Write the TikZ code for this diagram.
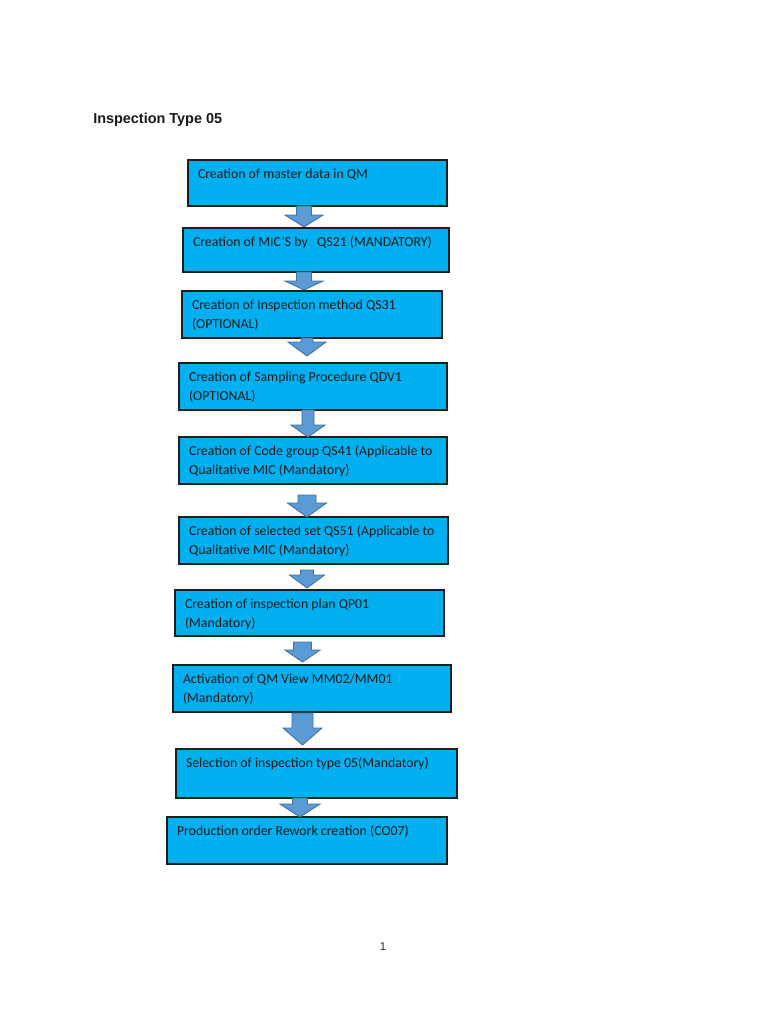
\documentclass[tikz,border=0pt]{standalone}
\usepackage{fontspec}
\setmainfont{Carlito}
\newfontfamily\titlefont{Liberation Sans}
\usetikzlibrary{calc}
\def\pxl{0.796875pt}
\definecolor{boxfill}{HTML}{00B0F0}
\definecolor{boxline}{HTML}{1E1E1E}
\definecolor{arrowfill}{HTML}{5B9BD5}
\definecolor{arrowline}{HTML}{41719C}
\tikzset{
 stepbox/.style={draw=boxline, fill=boxfill, line width=0.9pt, inner sep=0pt, outer sep=0pt},
 steptext/.style={anchor=north west, inner sep=0pt, outer sep=0pt, align=left, font=\fontsize{11pt}{15.14pt}\selectfont, text=black!90},
 barrow/.style={fill=arrowfill, draw=arrowline, line width=0.7pt, line join=miter}
}
% box: name, x1, y1, x2, y2 (px), text
\newcommand\bx[6]{%
 \node[stepbox, minimum width={(#4-#2)*\pxl}, minimum height={(#5-#3)*\pxl}] (#1) at ({(#2+#4)/2},{(#3+#5)/2}) {};
 \node[steptext] (t#1) at ($(#1.north west)+(10,6)$) {\rule{0pt}{10pt}#6};}
% block arrow: from, to, xc, shaft half, head half, head length, top gap, tip gap (px)
\newcommand\barr[8]{%
 \draw[barrow] let \p1=(#1.south), \p2=(#2.north) in
 ({(#3-#4)*\pxl},{\y1-#7*\pxl}) -- ({(#3+#4)*\pxl},{\y1-#7*\pxl})
 -- ({(#3+#4)*\pxl},{\y2+(#8+#6)*\pxl}) -- ({(#3+#5)*\pxl},{\y2+(#8+#6)*\pxl})
 -- ({#3*\pxl},{\y2+#8*\pxl})
 -- ({(#3-#5)*\pxl},{\y2+(#8+#6)*\pxl}) -- ({(#3-#4)*\pxl},{\y2+(#8+#6)*\pxl}) -- cycle;}
\begin{document}
\begin{tikzpicture}[x=\pxl, y=-\pxl]
\useasboundingbox[fill=white] (0,0) rectangle (768,1024);
\node[anchor=base west, inner sep=0pt, font=\titlefont\bfseries\fontsize{11.5pt}{14pt}\selectfont, text=black!90] (title) at (93,123.3) {Inspection Type 05};

\bx{b1}{188}{160}{447}{206}{Creation of master data in QM}
\bx{b2}{183}{228}{449}{272}{Creation of MIC’S by~~~QS21 (MANDATORY)}
\bx{b3}{182}{291}{442}{338}{Creation of Inspection method QS31\\(OPTIONAL)}
\bx{b4}{179}{363}{447}{410}{Creation of Sampling Procedure QDV1\\(OPTIONAL)}
\bx{b5}{179}{437}{447}{484}{Creation of Code group QS41 (Applicable to\\Qualitative MIC (Mandatory)}
\bx{b6}{179}{517}{448}{564}{Creation of selected set QS51 (Applicable to\\Qualitative MIC (Mandatory)}
\bx{b7}{175}{590}{444}{636}{Creation of inspection plan QP01\\(Mandatory)}
\bx{b8}{173}{665}{451}{712}{Activation of QM View MM02/MM01\\(Mandatory)}
\bx{b9}{176}{749}{457}{798}{Selection of inspection type 05(Mandatory)}
\bx{b10}{167}{817}{447}{864}{Production order Rework creation (CO07)}

\barr{b1}{b2}{304}{7.5}{19}{12}{0}{1}
\barr{b2}{b3}{304}{7.5}{19}{9}{0}{1}
\barr{b3}{b4}{307}{6}{19}{14}{0}{7}
\barr{b4}{b5}{308}{6}{17}{12}{0}{0}
\barr{b5}{b6}{307}{9}{19.5}{14}{11}{0}
\barr{b6}{b7}{307}{6.5}{17.5}{13}{6}{2}
\barr{b7}{b8}{302.5}{9}{17.5}{12}{6}{3}
\barr{b8}{b9}{302.5}{10.5}{19.5}{17}{1}{4}
\barr{b9}{b10}{300}{7.5}{20}{13}{0}{0}

\node[anchor=base, inner sep=0pt, font=\titlefont\fontsize{9pt}{11pt}\selectfont, text=black!85] (pagenum) at (383,950) {1};
\end{tikzpicture}
\end{document}
